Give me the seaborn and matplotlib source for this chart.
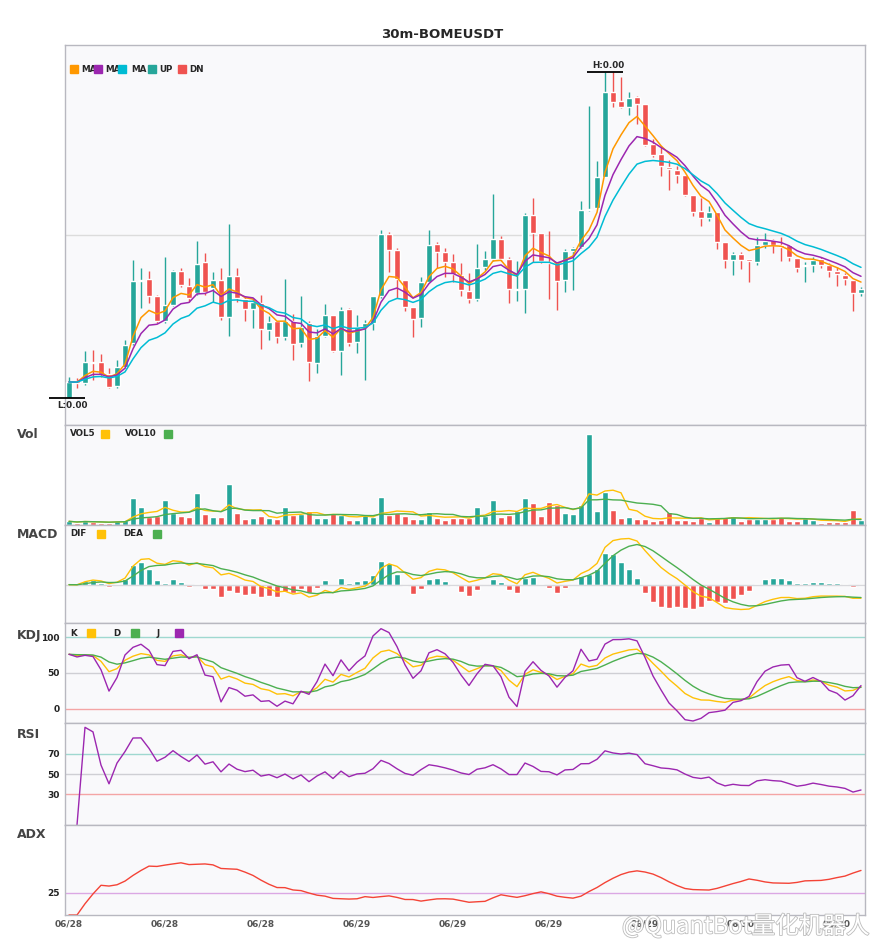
import numpy as np
import pandas as pd
import matplotlib
matplotlib.use("Agg")
import matplotlib.pyplot as plt
import matplotlib.patheffects as pe
from matplotlib.patches import Rectangle
import seaborn as sns

# prices, in units of 0.00001 USDT
SCALE = 1e-5

open_ = [137, 154, 152, 173, 173, 161, 149, 168, 192, 254,
         256, 239, 214, 230, 264, 249, 242, 273, 247, 255,
         218, 259, 236, 226, 232, 205, 214, 198, 214, 192,
         212, 172, 199, 220, 184, 226, 193, 208, 212, 239,
         301, 285, 255, 228, 217, 253, 291, 283, 273, 260,
         244, 236, 268, 276, 296, 276, 245, 246, 320, 302,
         273, 272, 255, 284, 288, 325, 327, 358, 443, 434,
         428, 438, 431, 391, 381, 368, 365, 360, 340, 324,
         317, 323, 293, 275, 281, 276, 273, 290, 295, 290,
         290, 277, 269, 270, 276, 270, 264, 260, 255, 242]

close = [153, 152, 173, 172, 161, 148, 168, 190, 254, 255,
         239, 214, 230, 264, 250, 237, 271, 243, 255, 218,
         259, 237, 226, 233, 206, 213, 198, 214, 191, 208,
         173, 199, 220, 184, 225, 192, 208, 212, 239, 301,
         285, 256, 228, 216, 253, 290, 283, 273, 261, 245,
         236, 267, 276, 296, 276, 246, 246, 320, 302, 274,
         272, 254, 284, 287, 325, 326, 358, 443, 433, 428,
         437, 431, 390, 380, 369, 366, 360, 340, 323, 317,
         323, 293, 275, 281, 275, 274, 290, 294, 290, 288,
         278, 267, 270, 275, 270, 264, 261, 256, 242, 246]

high = [158, 157, 184, 185, 181, 167, 175, 195, 275, 267,
        264, 240, 278, 265, 267, 257, 294, 282, 263, 267,
        311, 267, 238, 237, 240, 219, 214, 256, 221, 239,
        214, 206, 231, 220, 228, 227, 220, 215, 239, 305,
        303, 287, 255, 228, 258, 305, 293, 287, 281, 272,
        262, 291, 284, 341, 299, 278, 274, 322, 337, 302,
        304, 272, 286, 288, 334, 429, 374, 463, 463, 458,
        443, 439, 431, 396, 388, 375, 369, 360, 340, 337,
        329, 323, 293, 283, 283, 276, 298, 302, 296, 298,
        290, 277, 273, 278, 278, 272, 268, 262, 255, 248]

low = [137, 147, 150, 155, 158, 147, 147, 167, 190, 227,
       232, 212, 212, 229, 248, 233, 240, 240, 233, 215,
       199, 233, 214, 207, 186, 195, 192, 195, 175, 188,
       154, 162, 198, 183, 160, 189, 182, 155, 205, 237,
       263, 237, 224, 198, 208, 253, 267, 258, 253, 239,
       232, 234, 265, 274, 274, 232, 234, 222, 273, 272,
       236, 225, 243, 245, 287, 324, 327, 358, 428, 427,
       420, 411, 389, 378, 359, 345, 352, 339, 319, 309,
       314, 286, 267, 260, 266, 253, 270, 287, 282, 274,
       274, 263, 253, 263, 267, 258, 249, 250, 224, 239]

volume = [11, 7, 13, 8, 7, 5, 13, 15, 79, 55,
          25, 28, 76, 36, 28, 25, 94, 34, 25, 25,
          121, 37, 19, 22, 28, 22, 19, 55, 30, 34,
          43, 22, 22, 37, 30, 16, 16, 34, 25, 82,
          30, 37, 28, 19, 19, 40, 22, 16, 22, 22,
          20, 55, 28, 76, 25, 31, 42, 79, 67, 28,
          70, 61, 37, 34, 61, 271, 43, 98, 46, 22,
          25, 19, 19, 13, 16, 40, 16, 16, 13, 22,
          10, 25, 25, 28, 13, 19, 19, 19, 19, 25,
          13, 13, 22, 16, 7, 10, 10, 10, 46, 16]

tick_pos = [0, 12, 24, 36, 48, 60, 72, 84, 96]
tick_labels = ['06/28', '06/28', '06/28', '06/29', '06/29', '06/29', '06/29', '06/30', '06/30']

UP = '#26a69a'
DN = '#ef5350'
C_MA1, C_MA2, C_MA3 = '#ff9800', '#9c27b0', '#00bcd4'
C_YEL, C_GRN, C_PUR = '#ffc107', '#4caf50', '#9c27b0'

W, H = 885, 950


def make_frame():
    df = pd.DataFrame({'open': open_, 'high': high, 'low': low, 'close': close}) * SCALE
    df['volume'] = volume
    return df


def add_indicators(df):
    c = df['close']
    for n in (5, 8, 13):
        df[f'ema{n}'] = c.ewm(span=n, adjust=False).mean()
    df['vol5'] = df['volume'].rolling(5, min_periods=1).mean()
    df['vol10'] = df['volume'].rolling(10, min_periods=1).mean()

    # MACD(6, 13, 5)
    df['dif'] = c.ewm(span=6, adjust=False).mean() - c.ewm(span=13, adjust=False).mean()
    df['dea'] = df['dif'].ewm(span=5, adjust=False).mean()
    df['hist'] = 2 * (df['dif'] - df['dea'])

    # KDJ(9, 3, 3)
    llv = df['low'].rolling(9, min_periods=1).min()
    hhv = df['high'].rolling(9, min_periods=1).max()
    rsv = (c - llv) / (hhv - llv) * 100
    df['k'] = rsv.ewm(com=2, adjust=False).mean()
    df['d'] = df['k'].ewm(com=2, adjust=False).mean()
    df['j'] = 3 * df['k'] - 2 * df['d']

    # RSI(14)
    delta = c.diff()
    gain = delta.clip(lower=0).ewm(alpha=1 / 14).mean()
    loss = (-delta.clip(upper=0)).ewm(alpha=1 / 14).mean()
    df['rsi'] = 100 - 100 / (1 + gain / loss)

    # ADX(8), Wilder smoothing
    n = 8
    pc = c.shift()
    tr = pd.concat([df['high'] - df['low'], (df['high'] - pc).abs(), (df['low'] - pc).abs()], axis=1).max(axis=1)
    up_move = df['high'].diff()
    dn_move = -df['low'].diff()
    pdm = pd.Series(np.where((up_move > dn_move) & (up_move > 0), up_move, 0.0))
    mdm = pd.Series(np.where((dn_move > up_move) & (dn_move > 0), dn_move, 0.0))
    atr = tr.ewm(alpha=1 / n, adjust=False).mean()
    pdi = 100 * pdm.ewm(alpha=1 / n, adjust=False).mean() / atr
    mdi = 100 * mdm.ewm(alpha=1 / n, adjust=False).mean() / atr
    dx = (100 * (pdi - mdi).abs() / (pdi + mdi)).fillna(0)
    df['adx'] = dx.ewm(alpha=1 / n, adjust=False).mean()
    return df


def panel(fig, top, bottom):
    ax = fig.add_axes([65 / W, 1 - bottom / H, 800 / W, (bottom - top) / H])
    ax.set_facecolor('#f9f9fb')
    for s in ax.spines.values():
        s.set_color('#b8b8c0')
        s.set_linewidth(1)
    ax.set_xlim(-0.5, 99.5)
    ax.set_xticks([])
    ax.tick_params(axis='y', length=0, labelsize=6.5, pad=4)
    return ax


def fig_text(fig, x, y, s, **kw):
    kw.setdefault('fontsize', 6.3)
    kw.setdefault('fontweight', 'bold')
    kw.setdefault('va', 'center')
    fig.text(x / W, 1 - y / H, s, **kw)


def fig_square(fig, x, y, color, size=8):
    fig.add_artist(Rectangle((x / W, 1 - (y + size / 2) / H), size / W, size / H,
                             transform=fig.transFigure, color=color, zorder=5))


def yticks_bold(ax, ticks):
    ax.set_yticks(ticks)
    ax.set_yticklabels([str(t) for t in ticks], fontweight='bold', fontsize=6.5, color='#222222')


def main():
    sns.set_theme(style='white')
    plt.rcParams['font.family'] = ['DejaVu Sans', 'Noto Sans CJK SC']
    df = add_indicators(make_frame())
    x = np.arange(len(df))
    up = (df['close'] >= df['open']).values
    colors = np.where(up, UP, DN)

    fig = plt.figure(figsize=(W / 100, H / 100), dpi=100)
    fig_text(fig, W / 2, 34, '30m-BOMEUSDT', fontsize=9.5, ha='center')

    # price panel
    ax = panel(fig, 45, 425)
    lo, hi = df['low'].min(), df['high'].max()
    pad = (hi - lo) * 0.083
    ax.set_ylim(lo - pad, hi + pad)
    ax.set_yticks([0.0030])
    ax.set_yticklabels([])
    ax.grid(axis='y', color='#dcdcdc', lw=1)
    ax.vlines(x, df['low'], df['high'], colors=colors, lw=1, zorder=2)
    body = np.maximum((df['close'] - df['open']).abs(), 1 * SCALE)
    ax.bar(x, body, bottom=np.minimum(df['open'], df['close']), width=0.72, color=colors, zorder=3)
    for col, c in (('ema5', C_MA1), ('ema8', C_MA2), ('ema13', C_MA3)):
        sns.lineplot(x=x, y=df[col].values, ax=ax, color=c, lw=1.1, zorder=4)
    ih, il = int(df['high'].idxmax()), int(df['low'].idxmin())
    ax.hlines(hi, ih - 2.25, ih + 2.25, color='black', lw=1.3, clip_on=False, zorder=5)
    ax.text(ih + 0.4, hi + 2 * SCALE, f'H:{hi:.2f}', ha='center', va='bottom', fontsize=6.3, fontweight='bold')
    ax.hlines(lo, il - 2.5, il + 2.0, color='black', lw=1.3, clip_on=False, zorder=5)
    ax.text(il + 0.5, lo - 3 * SCALE, f'L:{lo:.2f}', ha='center', va='top', fontsize=6.3, fontweight='bold')
    for sx, c, tx, s in ((70, C_MA1, 81, 'MA'), (94, C_MA2, 105, 'MA'), (118, C_MA3, 131, 'MA'),
                         (148, UP, 159, 'UP'), (178, DN, 189, 'DN')):
        fig_text(fig, tx, 69, s)
        fig_square(fig, sx, 69, c)

    # volume panel
    axv = panel(fig, 425, 525)
    axv.bar(x, df['volume'], width=0.75, color=colors)
    sns.lineplot(x=x, y=df['vol5'].values, ax=axv, color=C_YEL, lw=1)
    sns.lineplot(x=x, y=df['vol10'].values, ax=axv, color=C_GRN, lw=1)
    axv.set_ylim(0, df['volume'].max() * 1.1)
    axv.set_yticks([])
    fig_text(fig, 17, 435, 'Vol', fontsize=9, color='#444444')
    fig_text(fig, 70, 434, 'VOL5')
    fig_square(fig, 101, 434, C_YEL)
    fig_text(fig, 125, 434, 'VOL10')
    fig_square(fig, 164, 434, C_GRN)

    # MACD panel
    axm = panel(fig, 525, 623)
    axm.axhline(0, color='#d8d8dc', lw=1)
    axm.bar(x, df['hist'], width=0.72, color=np.where(df['hist'] >= 0, UP, DN))
    sns.lineplot(x=x, y=df['dif'].values, ax=axm, color=C_YEL, lw=1)
    sns.lineplot(x=x, y=df['dea'].values, ax=axm, color=C_GRN, lw=1)
    mlo = min(df['dif'].min(), df['dea'].min(), df['hist'].min())
    mhi = max(df['dif'].max(), df['dea'].max(), df['hist'].max())
    mpad = (mhi - mlo) * 0.19
    axm.set_ylim(mlo - mpad, mhi + mpad)
    axm.set_yticks([])
    fig_text(fig, 17, 535, 'MACD', fontsize=9, color='#444444')
    fig_text(fig, 70, 534, 'DIF')
    fig_square(fig, 97, 534, C_YEL)
    fig_text(fig, 123, 534, 'DEA')
    fig_square(fig, 153, 534, C_GRN)

    # KDJ panel
    axk = panel(fig, 623, 723)
    axk.set_ylim(-20, 120)
    axk.axhline(100, color='#9fd8d0', lw=1)
    axk.axhline(50, color='#cfcfd4', lw=1)
    axk.axhline(0, color='#f4a5a5', lw=1)
    sns.lineplot(x=x, y=df['k'].values, ax=axk, color=C_YEL, lw=1)
    sns.lineplot(x=x, y=df['d'].values, ax=axk, color=C_GRN, lw=1)
    sns.lineplot(x=x, y=df['j'].values, ax=axk, color=C_PUR, lw=1)
    yticks_bold(axk, [0, 50, 100])
    fig_text(fig, 17, 635, 'KDJ', fontsize=9, color='#444444')
    fig_text(fig, 70, 633, 'K')
    fig_square(fig, 87, 633, C_YEL)
    fig_text(fig, 113, 633, 'D')
    fig_square(fig, 131, 633, C_GRN)
    fig_text(fig, 157, 633, 'J')
    fig_square(fig, 175, 633, C_PUR)

    # RSI panel
    axr = panel(fig, 723, 825)
    axr.set_ylim(0, 100)
    axr.axhline(70, color='#9fd8d0', lw=1)
    axr.axhline(50, color='#cfcfd4', lw=1)
    axr.axhline(30, color='#f4a5a5', lw=1)
    sns.lineplot(x=x, y=df['rsi'].values, ax=axr, color=C_PUR, lw=1)
    yticks_bold(axr, [30, 50, 70])
    fig_text(fig, 17, 735, 'RSI', fontsize=9, color='#444444')

    # ADX panel
    axa = panel(fig, 825, 915)
    axa.set_ylim(0, 100)
    axa.axhline(25, color='#dba8e4', lw=1)
    sns.lineplot(x=x, y=df['adx'].values, ax=axa, color='#f44336', lw=1)
    yticks_bold(axa, [25])
    fig_text(fig, 17, 835, 'ADX', fontsize=9, color='#444444')
    axa.set_xticks(tick_pos)
    axa.set_xticklabels(tick_labels, fontsize=6.5, fontweight='bold', color='#555555')
    axa.tick_params(axis='x', length=0, pad=3)

    fig.text(622 / W, 1 - 926 / H, '@QuantBot量化机器人', fontsize=17, color='white',
             va='center', family=['Noto Sans CJK SC', 'DejaVu Sans'],
             path_effects=[pe.withStroke(linewidth=1.2, foreground='#bdbdbd')])

    fig.savefig('out.png', dpi=100)


if __name__ == '__main__':
    main()
